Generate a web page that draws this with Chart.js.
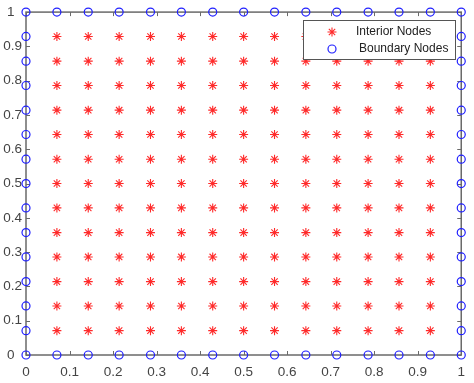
<!DOCTYPE html>
<html>
<head>
<meta charset="utf-8">
<script src="https://cdn.jsdelivr.net/npm/chart.js@4/dist/chart.umd.min.js"></script>
<style>
  html, body { margin: 0; padding: 0; background: #fff; }
  #wrap { width: 474px; height: 383px; }
</style>
</head>
<body>
<div id="wrap"><canvas id="nodes"></canvas></div>
<script>
// node coordinates along each side (15 positions)
const nodePos = [0, 0.071, 0.143, 0.214, 0.286, 0.357, 0.429, 0.5, 0.571, 0.643, 0.714, 0.786, 0.857, 0.929, 1];
const seriesNames = ['Interior Nodes', 'Boundary Nodes'];
const axisTicks = [0, 0.1, 0.2, 0.3, 0.4, 0.5, 0.6, 0.7, 0.8, 0.9, 1];

const last = nodePos.length - 1;
const interior = [];
const boundary = [];
nodePos.forEach((x, i) => {
    nodePos.forEach((y, j) => {
        if (i === 0 || j === 0 || i === last || j === last) boundary.push({ x, y });
        else interior.push({ x, y });
    });
});

const axisColor = '#6a6a6a';
const labelFont = { family: '"Liberation Sans", Arial, sans-serif', size: 13.5 };

// box frame with inward ticks on all four sides
const frame = {
    id: 'frame',
    beforeDatasetsDraw(chart) {
        const { ctx, chartArea: a, scales } = chart;
        ctx.save();
        ctx.strokeStyle = axisColor;
        ctx.lineWidth = 1.5;
        ctx.strokeRect(a.left, a.top, a.right - a.left, a.bottom - a.top);
        ctx.lineWidth = 1;
        const tl = 4;
        axisTicks.forEach(v => {
            const px = Math.round(scales.x.getPixelForValue(v)) + 0.5;
            const py = Math.round(scales.y.getPixelForValue(v)) + 0.5;
            ctx.beginPath();
            ctx.moveTo(px, a.bottom); ctx.lineTo(px, a.bottom - tl);
            ctx.moveTo(px, a.top); ctx.lineTo(px, a.top + tl);
            ctx.moveTo(a.left, py); ctx.lineTo(a.left + tl, py);
            ctx.moveTo(a.right, py); ctx.lineTo(a.right - tl, py);
            ctx.stroke();
        });
        ctx.restore();
    }
};

// legend box in the upper right, like the original
const boxLegend = {
    id: 'boxLegend',
    afterDraw(chart) {
        const { ctx } = chart;
        ctx.save();
        ctx.fillStyle = '#fff';
        ctx.fillRect(303, 20, 152, 39);
        ctx.strokeStyle = '#555';
        ctx.lineWidth = 1;
        ctx.strokeRect(303.5, 20.5, 152, 39);
        ctx.font = '12px "Liberation Sans", Arial, sans-serif';
        ctx.textBaseline = 'middle';
        const rows = [[32, 356], [49, 359]];
        chart.data.datasets.forEach((ds, k) => {
            const [y, tx] = rows[k];
            ctx.strokeStyle = ds.borderColor;
            ctx.fillStyle = ds.backgroundColor;
            ctx.lineWidth = ds.borderWidth;
            Chart.helpers.drawPoint(ctx, { pointStyle: ds.pointStyle, radius: ds.pointRadius, borderWidth: ds.borderWidth }, 332, y);
            ctx.fillStyle = '#222';
            ctx.fillText(ds.label, tx, y);
        });
        ctx.restore();
    }
};

new Chart(document.getElementById('nodes'), {
    type: 'scatter',
    data: {
        datasets: [{
            label: seriesNames[0],
            data: interior,
            pointStyle: 'star',
            pointRadius: 4.5,
            borderColor: '#ff2a2a',
            backgroundColor: '#ff2a2a',
            borderWidth: 1.1,
            clip: false
        }, {
            label: seriesNames[1],
            data: boundary,
            pointStyle: 'circle',
            pointRadius: 4,
            borderColor: '#2020ff',
            backgroundColor: 'rgba(0,0,0,0)',
            borderWidth: 1.2,
            clip: false
        }]
    },
    options: {
        responsive: true,
        maintainAspectRatio: false,
        animation: false,
        layout: { padding: { top: 6, right: 7, left: 0, bottom: 0 } },
        plugins: { legend: { display: false }, tooltip: { enabled: false } },
        scales: {
            x: {
                type: 'linear', min: 0, max: 1,
                afterBuildTicks: s => { s.ticks = axisTicks.map(v => ({ value: v })); },
                grid: { display: false, drawTicks: false },
                border: { display: false },
                ticks: {
                    padding: 9, color: '#444', maxRotation: 0, autoSkip: false,
                    font: labelFont,
                    callback: v => String(+v.toFixed(1))
                },
                afterFit: s => { s.height = 28; }
            },
            y: {
                type: 'linear', min: 0, max: 1,
                afterBuildTicks: s => { s.ticks = axisTicks.map(v => ({ value: v })); },
                grid: { display: false, drawTicks: false },
                border: { display: false },
                ticks: {
                    padding: 4, color: '#444', autoSkip: false,
                    font: labelFont,
                    // whole numbers sit a bit further left in the original
                    callback: v => Number.isInteger(v) ? v + '  ' : String(+v.toFixed(1))
                },
                afterFit: s => { s.width = 26; }
            }
        }
    },
    plugins: [frame, boxLegend]
});
</script>
</body>
</html>
